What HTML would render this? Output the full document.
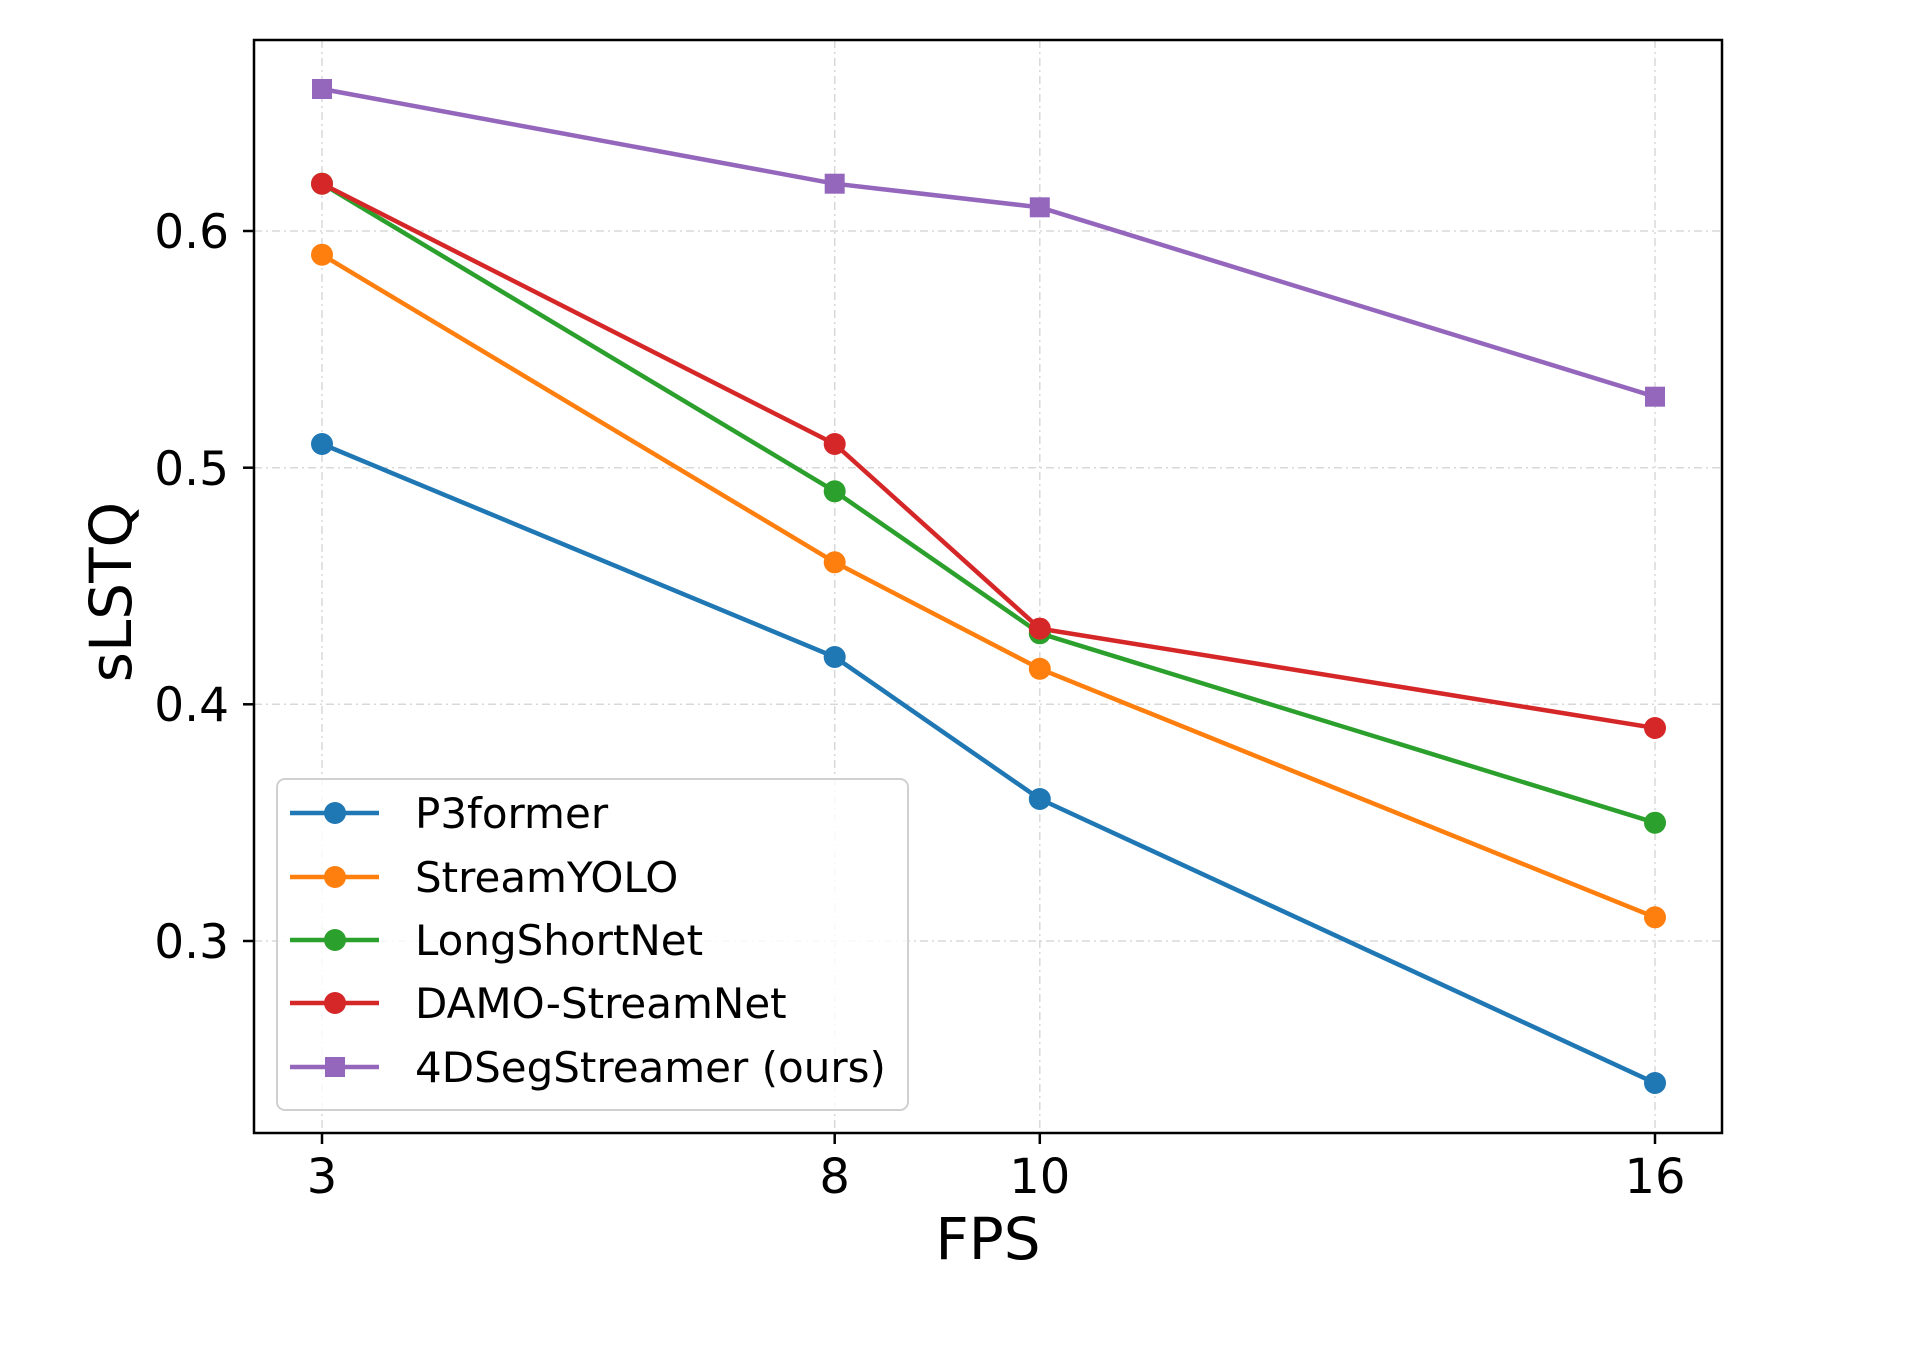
<!DOCTYPE html>
<html><head><meta charset="utf-8"><style>
html,body{margin:0;padding:0;background:#fff;}
svg{display:block;}
text{font-family:"DejaVu Sans","Liberation Sans",sans-serif;fill:#000;}
</style></head><body>
<svg width="1932" height="1368" viewBox="0 0 1932 1368" xmlns="http://www.w3.org/2000/svg">
<rect width="1932" height="1368" fill="#fff"/>
<g stroke="#d8d8d8" stroke-width="1.5" stroke-dasharray="8,4,2,4">
<line x1="322" y1="40" x2="322" y2="1133"/>
<line x1="834.7" y1="40" x2="834.7" y2="1133"/>
<line x1="1039.8" y1="40" x2="1039.8" y2="1133"/>
<line x1="1655" y1="40" x2="1655" y2="1133"/>
<line x1="254" y1="231" x2="1722" y2="231"/>
<line x1="254" y1="467.7" x2="1722" y2="467.7"/>
<line x1="254" y1="704.3" x2="1722" y2="704.3"/>
<line x1="254" y1="941" x2="1722" y2="941"/>
</g>
<g stroke-width="4.5" fill="none" stroke-linejoin="round">
<polyline stroke="#1f77b4" points="322,444 834.7,657 1039.8,799 1655,1083"/>
<polyline stroke="#ff7f0e" points="322,254.7 834.7,562.3 1039.8,668.8 1655,917.3"/>
<polyline stroke="#2ca02c" points="322,183.7 834.7,491.3 1039.8,633.3 1655,822.7"/>
<polyline stroke="#d62728" points="322,183.7 834.7,444 1039.8,628.6 1655,728"/>
<polyline stroke="#9467bd" points="322,89 834.7,183.7 1039.8,207.3 1655,396.7"/>
</g>
<g fill="#1f77b4"><circle cx="322" cy="444" r="11"/><circle cx="834.7" cy="657" r="11"/><circle cx="1039.8" cy="799" r="11"/><circle cx="1655" cy="1083" r="11"/></g>
<g fill="#ff7f0e"><circle cx="322" cy="254.7" r="11"/><circle cx="834.7" cy="562.3" r="11"/><circle cx="1039.8" cy="668.8" r="11"/><circle cx="1655" cy="917.3" r="11"/></g>
<g fill="#2ca02c"><circle cx="322" cy="183.7" r="11"/><circle cx="834.7" cy="491.3" r="11"/><circle cx="1039.8" cy="633.3" r="11"/><circle cx="1655" cy="822.7" r="11"/></g>
<g fill="#d62728"><circle cx="322" cy="183.7" r="11"/><circle cx="834.7" cy="444" r="11"/><circle cx="1039.8" cy="628.6" r="11"/><circle cx="1655" cy="728" r="11"/></g>
<g fill="#9467bd"><rect x="312" y="79" width="20" height="20"/><rect x="824.7" y="173.7" width="20" height="20"/><rect x="1029.8" y="197.3" width="20" height="20"/><rect x="1645" y="386.7" width="20" height="20"/></g>
<rect x="254" y="40" width="1468" height="1093" fill="none" stroke="#000" stroke-width="2.5"/>
<g stroke="#000" stroke-width="2.5">
<line x1="322" y1="1133" x2="322" y2="1144"/>
<line x1="834.7" y1="1133" x2="834.7" y2="1144"/>
<line x1="1039.8" y1="1133" x2="1039.8" y2="1144"/>
<line x1="1655" y1="1133" x2="1655" y2="1144"/>
<line x1="243" y1="231" x2="254" y2="231"/>
<line x1="243" y1="467.7" x2="254" y2="467.7"/>
<line x1="243" y1="704.3" x2="254" y2="704.3"/>
<line x1="243" y1="941" x2="254" y2="941"/>
</g>
<g font-size="47" text-anchor="end">
<text x="229" y="248">0.6</text>
<text x="229" y="485">0.5</text>
<text x="229" y="721">0.4</text>
<text x="229" y="958">0.3</text>
</g>
<g font-size="48" text-anchor="middle">
<text x="322" y="1193">3</text>
<text x="834.7" y="1193">8</text>
<text x="1039.8" y="1193">10</text>
<text x="1655" y="1193">16</text>
</g>
<text x="988" y="1259" font-size="58" text-anchor="middle">FPS</text>
<text transform="translate(131,592) rotate(-90)" font-size="58" text-anchor="middle">sLSTQ</text>
<rect x="277" y="779" width="631" height="331" rx="8" fill="#fff" fill-opacity="0.85" stroke="#d0d0d0" stroke-width="2"/>
<g stroke-width="4.5">
<line x1="290" y1="813" x2="379" y2="813" stroke="#1f77b4"/>
<line x1="290" y1="877" x2="379" y2="877" stroke="#ff7f0e"/>
<line x1="290" y1="940" x2="379" y2="940" stroke="#2ca02c"/>
<line x1="290" y1="1003" x2="379" y2="1003" stroke="#d62728"/>
<line x1="290" y1="1067" x2="379" y2="1067" stroke="#9467bd"/>
</g>
<circle cx="335" cy="813" r="11" fill="#1f77b4"/>
<circle cx="335" cy="877" r="11" fill="#ff7f0e"/>
<circle cx="335" cy="940" r="11" fill="#2ca02c"/>
<circle cx="335" cy="1003" r="11" fill="#d62728"/>
<rect x="325" y="1057" width="20" height="20" fill="#9467bd"/>
<g font-size="42">
<text x="415" y="828">P3former</text>
<text x="415" y="892">StreamYOLO</text>
<text x="415" y="955">LongShortNet</text>
<text x="415" y="1018">DAMO-StreamNet</text>
<text x="415" y="1082">4DSegStreamer (ours)</text>
</g>
</svg>
</body></html>
